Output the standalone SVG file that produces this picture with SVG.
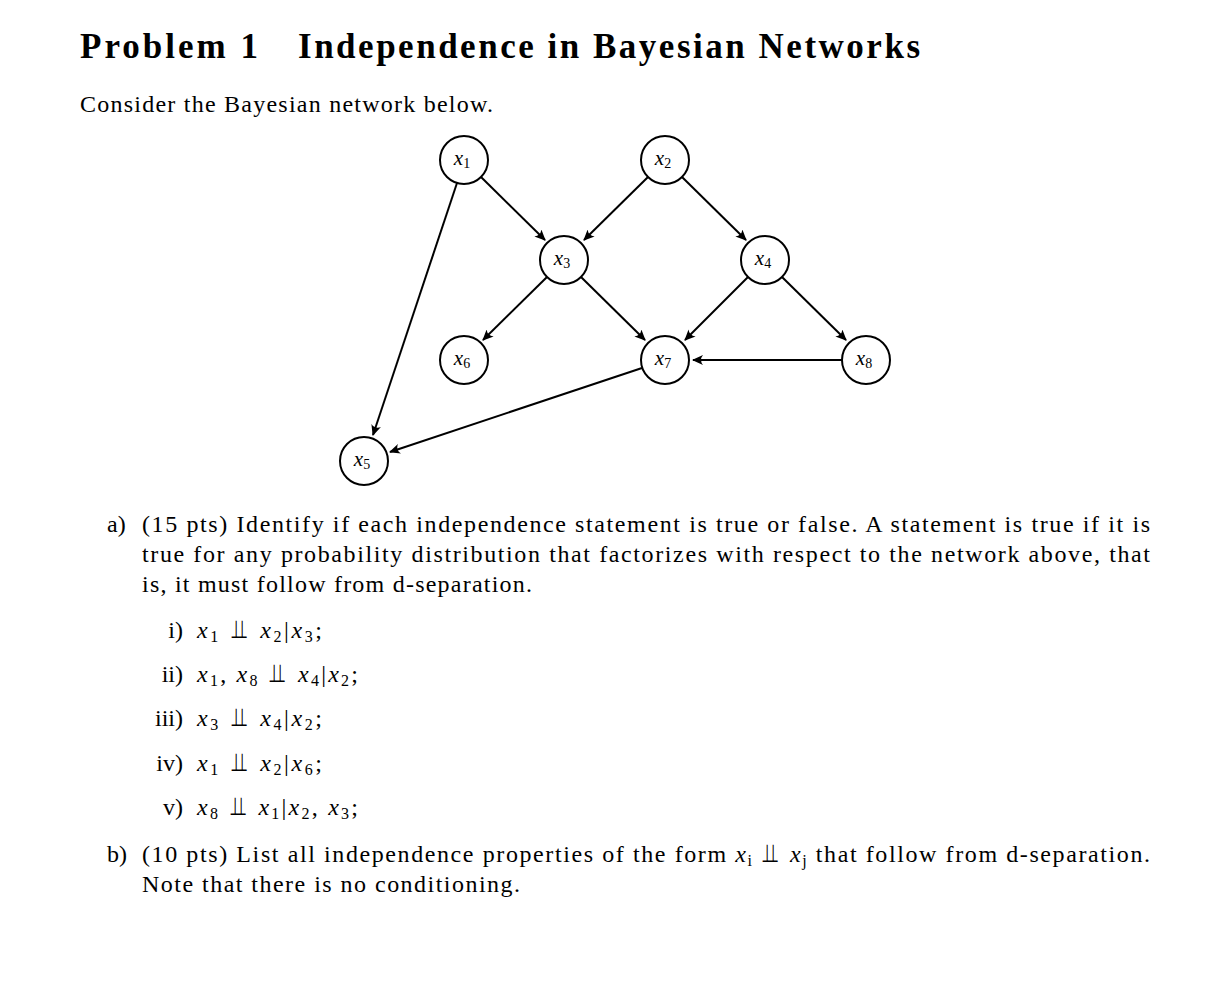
<svg xmlns="http://www.w3.org/2000/svg" width="1227" height="1000" viewBox="0 0 1227 1000">
<style>
.t{font-family:"Liberation Serif","DejaVu Serif",serif;font-size:24px;fill:#000}
.m{font-style:italic}
.s{font-size:16px;font-style:normal}
.p{font-family:"DejaVu Sans",sans-serif;font-size:26px}
.h{font-family:"Liberation Serif","DejaVu Serif",serif;font-size:35px;font-weight:bold}
.n circle{fill:#fff;stroke:#000;stroke-width:2}
.n text{font-family:"Liberation Serif",serif;font-size:21px;font-style:italic;text-anchor:middle}
.n tspan.s{font-size:14px;font-style:normal}
#edges line{stroke:#000;stroke-width:2;marker-end:url(#a)}
</style>
<defs><marker id="a" markerWidth="12" markerHeight="10" refX="10" refY="5" orient="auto" markerUnits="userSpaceOnUse"><path d="M0,0 Q4,5 0,10 L11,5 Z" fill="#000"/></marker></defs>
<rect width="1227" height="1000" fill="#fff"/>
<text class="h" x="80" y="58" textLength="178">Problem 1</text>
<text class="h" x="298" y="58" textLength="622">Independence in Bayesian Networks</text>
<text class="t" x="80" y="112" textLength="413">Consider the Bayesian network below.</text>
<g id="edges">
<line x1="481" y1="177" x2="545" y2="240"/>
<line x1="648" y1="177" x2="584" y2="240"/>
<line x1="682" y1="177" x2="746" y2="240"/>
<line x1="547" y1="277" x2="483" y2="340"/>
<line x1="581" y1="277" x2="645" y2="340"/>
<line x1="748" y1="277" x2="685" y2="340"/>
<line x1="782" y1="277" x2="846" y2="340"/>
<line x1="842" y1="360" x2="693" y2="360"/>
<line x1="457" y1="183" x2="373" y2="435"/>
<line x1="642" y1="368" x2="390" y2="452"/>
</g>
<g id="x1" class="n"><circle cx="464" cy="160" r="24"/><text x="462" y="165">x<tspan class="s" dy="3">1</tspan></text></g>
<g id="x2" class="n"><circle cx="665" cy="160" r="24"/><text x="663" y="165">x<tspan class="s" dy="3">2</tspan></text></g>
<g id="x3" class="n"><circle cx="564" cy="260" r="24"/><text x="562" y="265">x<tspan class="s" dy="3">3</tspan></text></g>
<g id="x4" class="n"><circle cx="765" cy="260" r="24"/><text x="763" y="265">x<tspan class="s" dy="3">4</tspan></text></g>
<g id="x6" class="n"><circle cx="464" cy="360" r="24"/><text x="462" y="365">x<tspan class="s" dy="3">6</tspan></text></g>
<g id="x7" class="n"><circle cx="665" cy="360" r="24"/><text x="663" y="365">x<tspan class="s" dy="3">7</tspan></text></g>
<g id="x8" class="n"><circle cx="866" cy="360" r="24"/><text x="864" y="365">x<tspan class="s" dy="3">8</tspan></text></g>
<g id="x5" class="n"><circle cx="364" cy="461" r="24"/><text x="362" y="466">x<tspan class="s" dy="3">5</tspan></text></g>
<text class="t" x="107" y="532">a)</text>
<text class="t" x="142" y="532" textLength="1008" lengthAdjust="spacing">(15 pts) Identify if each independence statement is true or false.  A statement is true if it is</text>
<text class="t" x="142" y="562" textLength="1008" lengthAdjust="spacing">true for any probability distribution that factorizes with respect to the network above, that</text>
<text class="t" x="142" y="592" textLength="390">is, it must follow from d-separation.</text>
<g class="t">
<text x="183" y="638" text-anchor="end">i)</text>
<text x="197" y="638" textLength="125"><tspan class="m">x</tspan><tspan class="s" dy="4">1</tspan><tspan class="p" dy="-4"> ⫫ </tspan><tspan class="m">x</tspan><tspan class="s" dy="4">2</tspan><tspan dy="-4">|</tspan><tspan class="m">x</tspan><tspan class="s" dy="4">3</tspan><tspan dy="-4">;</tspan></text>
<text x="183" y="682" text-anchor="end">ii)</text>
<text x="197" y="682" textLength="161"><tspan class="m">x</tspan><tspan class="s" dy="4">1</tspan><tspan dy="-4">, </tspan><tspan class="m">x</tspan><tspan class="s" dy="4">8</tspan><tspan class="p" dy="-4"> ⫫ </tspan><tspan class="m">x</tspan><tspan class="s" dy="4">4</tspan><tspan dy="-4">|</tspan><tspan class="m">x</tspan><tspan class="s" dy="4">2</tspan><tspan dy="-4">;</tspan></text>
<text x="183" y="726" text-anchor="end">iii)</text>
<text x="197" y="726" textLength="125"><tspan class="m">x</tspan><tspan class="s" dy="4">3</tspan><tspan class="p" dy="-4"> ⫫ </tspan><tspan class="m">x</tspan><tspan class="s" dy="4">4</tspan><tspan dy="-4">|</tspan><tspan class="m">x</tspan><tspan class="s" dy="4">2</tspan><tspan dy="-4">;</tspan></text>
<text x="183" y="771" text-anchor="end">iv)</text>
<text x="197" y="771" textLength="125"><tspan class="m">x</tspan><tspan class="s" dy="4">1</tspan><tspan class="p" dy="-4"> ⫫ </tspan><tspan class="m">x</tspan><tspan class="s" dy="4">2</tspan><tspan dy="-4">|</tspan><tspan class="m">x</tspan><tspan class="s" dy="4">6</tspan><tspan dy="-4">;</tspan></text>
<text x="183" y="815" text-anchor="end">v)</text>
<text x="197" y="815" textLength="161"><tspan class="m">x</tspan><tspan class="s" dy="4">8</tspan><tspan class="p" dy="-4"> ⫫ </tspan><tspan class="m">x</tspan><tspan class="s" dy="4">1</tspan><tspan dy="-4">|</tspan><tspan class="m">x</tspan><tspan class="s" dy="4">2</tspan><tspan dy="-4">, </tspan><tspan class="m">x</tspan><tspan class="s" dy="4">3</tspan><tspan dy="-4">;</tspan></text>
</g>
<text class="t" x="107" y="862">b)</text>
<text class="t" x="142" y="862" textLength="1008" lengthAdjust="spacing">(10 pts) List all independence properties of the form <tspan class="m">x</tspan><tspan class="s m" dy="4">i</tspan><tspan class="p" dy="-4"> ⫫ </tspan><tspan class="m">x</tspan><tspan class="s m" dy="4">j</tspan><tspan dy="-4"> that follow from d-separation.</tspan></text>
<text class="t" x="142" y="892" textLength="378">Note that there is no conditioning.</text>
</svg>
